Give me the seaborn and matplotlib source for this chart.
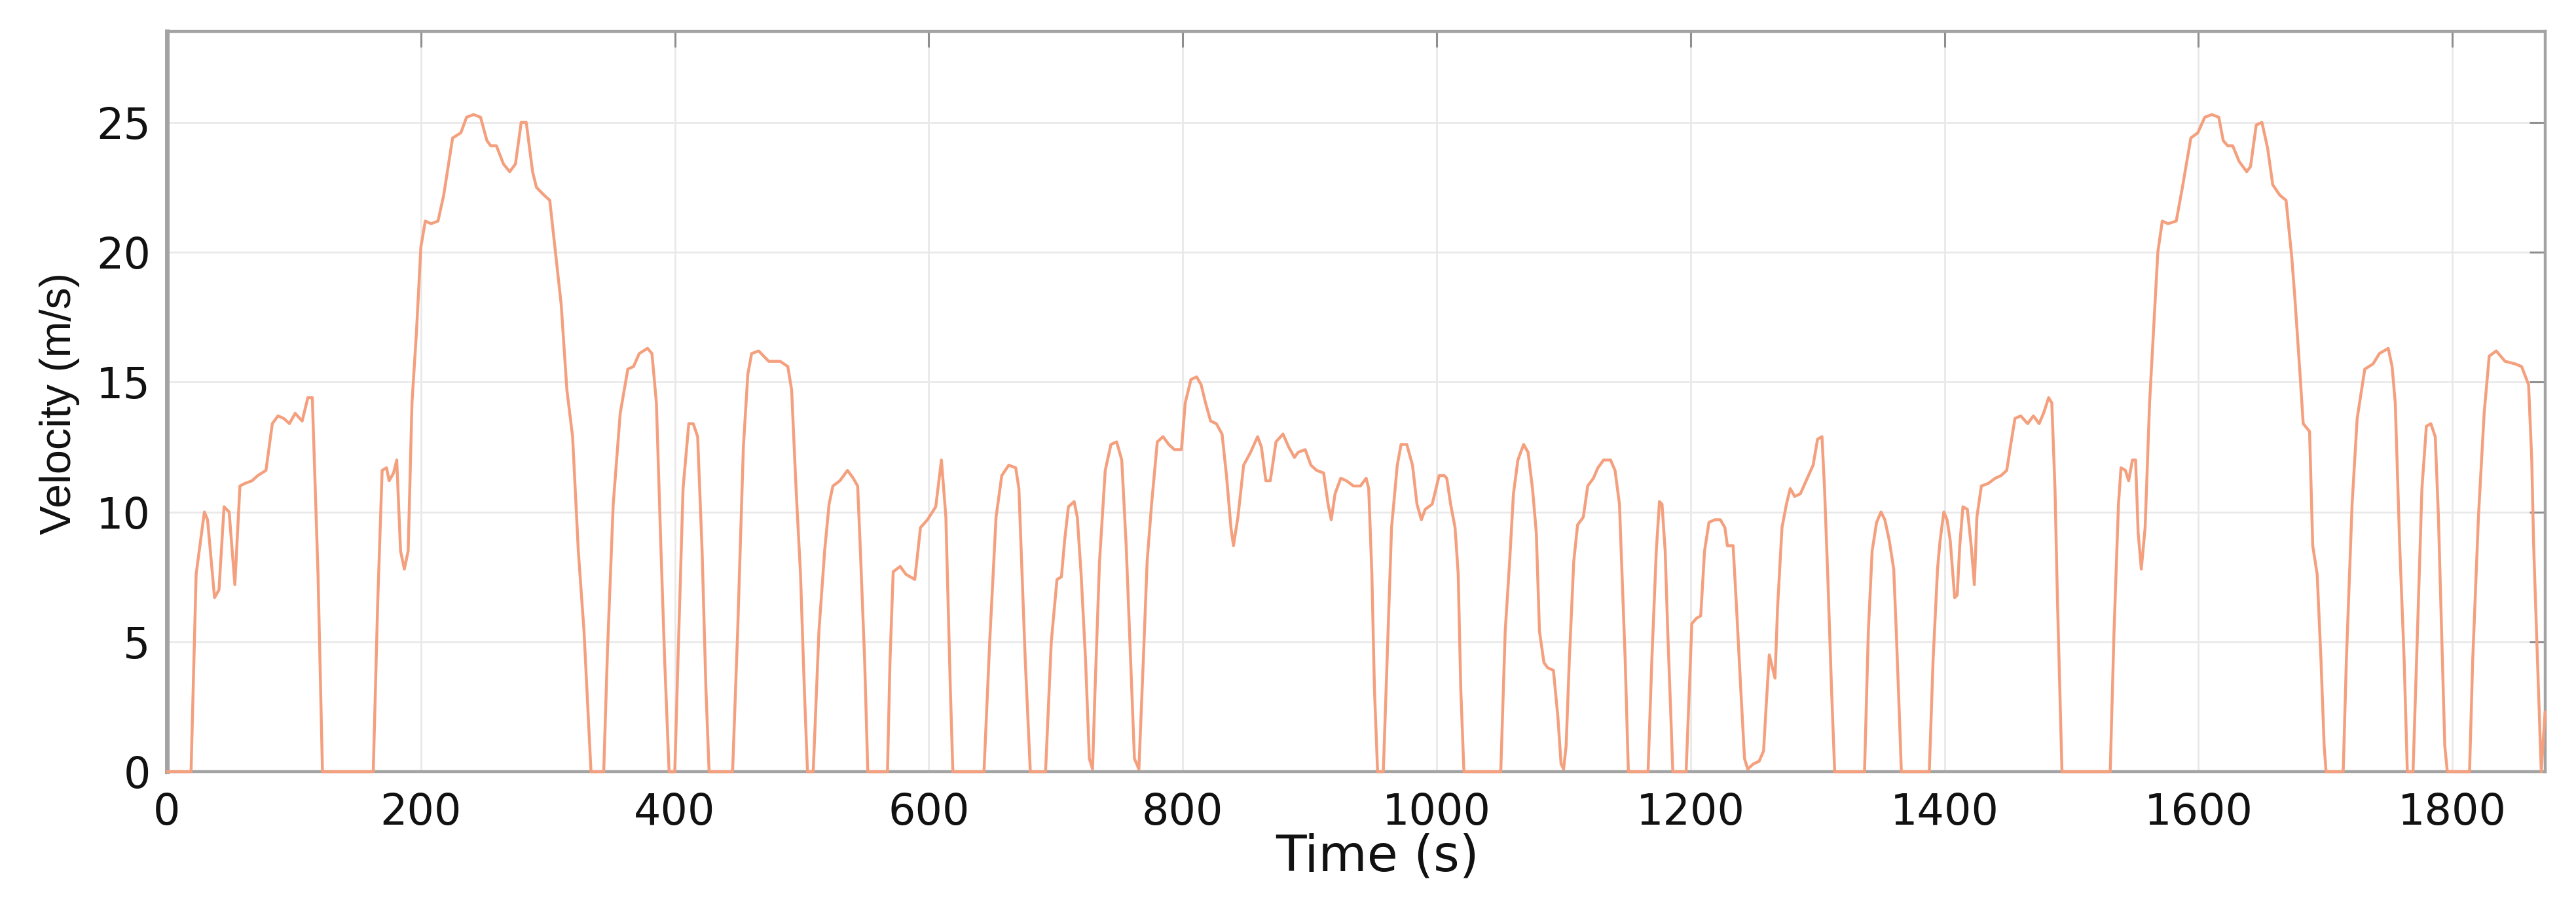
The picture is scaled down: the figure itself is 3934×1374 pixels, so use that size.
import numpy as np
import pandas as pd
import matplotlib
matplotlib.use("Agg")
import matplotlib.pyplot as plt
import seaborn as sns

# velocity profile, split into stretches of the trip
t_sec1 = [0, 19, 23, 26.5, 29.5, 32, 37.5, 41, 45, 49, 53.5, 57.5, 61.5, 67, 71.5, 78, 83, 87.5, 92, 96.5,
          101, 106.5, 111, 114.5, 119, 122.5, 162.5, 166, 169.5, 173, 175, 178.5, 181, 184, 187, 190, 193, 196.5, 200, 203.5,
          208, 213.5, 218, 225, 231.5, 236, 241.5, 247, 252, 255, 259.5, 265, 270, 274.5, 279, 283, 288, 291, 297, 301.5,
          306, 310.5, 315, 319.5, 324, 328.5, 334]
v_sec1 = [0, 0, 7.6, 8.9, 10.0, 9.7, 6.7, 7.0, 10.2, 10.0, 7.2, 11.0, 11.1, 11.2, 11.4, 11.6, 13.4, 13.7, 13.6, 13.4,
          13.8, 13.5, 14.4, 14.4, 7.6, 0, 0, 6.5, 11.6, 11.7, 11.2, 11.5, 12.0, 8.5, 7.8, 8.5, 14.2, 16.9, 20.2, 21.2,
          21.1, 21.2, 22.2, 24.4, 24.6, 25.2, 25.3, 25.2, 24.3, 24.1, 24.1, 23.4, 23.1, 23.4, 25.0, 25.0, 23.1, 22.5, 22.2, 22.0,
          20.0, 18.0, 14.7, 12.9, 8.5, 5.4, 0]

t_sec2 = [344, 347, 351.5, 357, 363, 367.5, 372, 378.5, 382, 385.5, 389, 392, 395.5, 400, 402.5, 406.5, 411, 414.5, 418, 421.5,
          424.5, 427, 445.5, 449.5, 454, 457.5, 460.5, 466, 474, 483, 489, 492, 495.5, 499, 502, 504.5, 509, 513.5, 518, 521.5,
          524.5, 530, 536, 540.5, 544, 546, 549.5, 552, 567.5, 569.5, 572, 577.5, 582, 589, 593.5, 599, 605.5, 610, 613.5, 617,
          619, 643.5, 648, 653, 657.5, 663, 668.5, 671, 673.5, 676, 680]
v_sec2 = [0, 4.7, 10.3, 13.8, 15.5, 15.6, 16.1, 16.3, 16.1, 14.2, 8.7, 4.3, 0, 0, 4.3, 10.9, 13.4, 13.4, 12.9, 8.5,
          3.2, 0, 0, 5.4, 12.5, 15.3, 16.1, 16.2, 15.8, 15.8, 15.6, 14.7, 10.9, 7.6, 3.2, 0, 0, 5.4, 8.5, 10.3,
          11.0, 11.2, 11.6, 11.3, 11.0, 8.7, 4.3, 0, 0, 4.3, 7.7, 7.9, 7.6, 7.4, 9.4, 9.7, 10.2, 12.0, 9.8, 3.2,
          0, 0, 5.0, 9.8, 11.4, 11.8, 11.7, 10.9, 7.6, 4.3, 0]

t_sec3 = [692, 696.5, 701, 704.5, 707, 710, 714.5, 717, 720, 723.5, 726.5, 729, 731, 734.5, 739, 743.5, 748, 752, 755.5, 759,
          762, 765.5, 769, 772, 775.5, 780, 784.5, 789, 793.5, 799, 802, 806.5, 811, 814.5, 818, 822, 826.5, 831, 834.5, 838,
          840, 843.5, 848, 853.5, 859, 862, 865.5, 869, 873.5, 879, 883.5, 888, 891, 896.5, 901, 905.5, 911, 914.5, 917, 920,
          924.5, 929, 934.5, 940, 944.5, 946.5, 949, 951, 953.5, 958, 961, 964.5, 969, 972, 976.5, 981, 984.5, 988, 991, 996.5,
          1002, 1006, 1008, 1011, 1014.5, 1017, 1019, 1021.5]
v_sec3 = [0, 5.0, 7.4, 7.5, 8.9, 10.2, 10.4, 9.8, 7.6, 4.3, 0.5, 0.1, 3.2, 8.1, 11.6, 12.6, 12.7, 12.0, 8.7, 4.3,
          0.5, 0.1, 4.3, 8.1, 10.3, 12.7, 12.9, 12.6, 12.4, 12.4, 14.2, 15.1, 15.2, 14.9, 14.2, 13.5, 13.4, 13.0, 11.4, 9.4,
          8.7, 9.8, 11.8, 12.3, 12.9, 12.5, 11.2, 11.2, 12.7, 13.0, 12.5, 12.1, 12.3, 12.4, 11.8, 11.6, 11.5, 10.3, 9.7, 10.7,
          11.3, 11.2, 11.0, 11.0, 11.3, 10.9, 7.6, 3.2, 0, 0, 4.3, 9.4, 11.8, 12.6, 12.6, 11.8, 10.3, 9.7, 10.1, 10.3,
          11.4, 11.4, 11.3, 10.3, 9.4, 7.6, 3.2, 0]

t_sec4 = [1050.5, 1054, 1057.5, 1060.5, 1064, 1068.5, 1072, 1075.5, 1078.5, 1081, 1084.5, 1087.5, 1092, 1095.5, 1098, 1100,
          1102, 1104.5, 1108, 1111, 1115.5, 1119, 1123.5, 1127, 1131.5, 1137, 1140.5, 1144, 1146, 1148.5, 1151, 1166.5,
          1169.5, 1173, 1175.5, 1177.5, 1180, 1182, 1184.5, 1186, 1196.5, 1199, 1201, 1204.5, 1208, 1211, 1214.5, 1219,
          1223.5, 1227, 1229, 1233.5, 1236, 1239.5, 1242.5, 1245, 1249.5, 1254, 1257.5, 1259.5, 1262, 1264, 1266.5, 1268.5,
          1272, 1275.5, 1278.5, 1282, 1286.5, 1291, 1296.5, 1300, 1303.5, 1305.5, 1308, 1311, 1313.5]
v_sec4 = [0, 5.4, 8.1, 10.7, 12.0, 12.6, 12.3, 10.9, 9.2, 5.4, 4.2, 4.0, 3.9, 2.1, 0.3, 0.1,
          1.0, 4.3, 8.1, 9.5, 9.8, 11.0, 11.3, 11.7, 12.0, 12.0, 11.6, 10.3, 7.6, 4.3, 0, 0,
          4.3, 8.5, 10.4, 10.3, 8.5, 5.4, 2.1, 0, 0, 3.2, 5.7, 5.9, 6.0, 8.5, 9.6, 9.7,
          9.7, 9.4, 8.7, 8.7, 6.5, 3.2, 0.5, 0.1, 0.3, 0.4, 0.8, 2.5, 4.5, 4.1, 3.6, 6.3,
          9.4, 10.3, 10.9, 10.6, 10.7, 11.2, 11.8, 12.8, 12.9, 10.9, 7.6, 3.2, 0]

t_sec5 = [1337, 1340, 1343, 1346.5, 1350, 1353, 1356.5, 1360, 1362, 1364.5, 1366, 1388, 1391, 1394.5, 1396.5, 1399.5,
          1402, 1404.5, 1408, 1410, 1412, 1414.5, 1418, 1421, 1423.5, 1425.5, 1429, 1434.5, 1440, 1444.5, 1449, 1452.5,
          1455.5, 1460, 1465.5, 1470, 1474.5, 1478, 1482, 1484.5, 1487, 1489, 1492.5, 1530.5, 1533.5, 1537, 1539, 1542.5,
          1545, 1548, 1550.5, 1552.5, 1555, 1558, 1561.5, 1565, 1568, 1571.5, 1576, 1582.5, 1587, 1594, 1599.5, 1605,
          1610.5, 1616, 1619.5, 1623, 1627, 1632, 1638, 1641, 1645.5, 1650, 1654.5, 1658.5, 1664, 1669, 1673.5, 1676,
          1680, 1682.5, 1687.5, 1690, 1693.5, 1696.5, 1699, 1700.5]
v_sec5 = [0, 5.4, 8.5, 9.6, 10.0, 9.7, 8.9, 7.8, 5.4, 2.1, 0, 0, 4.3, 7.8, 8.9, 10.0,
          9.7, 8.9, 6.7, 6.8, 8.7, 10.2, 10.1, 8.7, 7.2, 9.8, 11.0, 11.1, 11.3, 11.4, 11.6, 12.7,
          13.6, 13.7, 13.4, 13.7, 13.4, 13.8, 14.4, 14.2, 10.9, 6.5, 0, 0, 5.4, 10.3, 11.7, 11.6,
          11.2, 12.0, 12.0, 9.2, 7.8, 9.4, 14.2, 17.3, 20.0, 21.2, 21.1, 21.2, 22.4, 24.4, 24.6, 25.2,
          25.3, 25.2, 24.3, 24.1, 24.1, 23.5, 23.1, 23.3, 24.9, 25.0, 24.0, 22.6, 22.2, 22.0, 19.8, 18.2,
          15.3, 13.4, 13.1, 8.7, 7.6, 4.3, 1.0, 0]

t_sec6 = [1714, 1716.5, 1721, 1725, 1731, 1737.5, 1742.5, 1749.5, 1752.5, 1755, 1758.5, 1762, 1764.5, 1769, 1772.5, 1776,
          1779.5, 1783, 1786.5, 1789, 1791.5, 1794, 1796, 1813.5, 1816, 1820.5, 1825, 1829, 1834.5, 1841.5, 1849.5, 1854.5,
          1860, 1862.5, 1864, 1867, 1870, 1873]
v_sec6 = [0, 4.3, 10.3, 13.6, 15.5, 15.7, 16.1, 16.3, 15.6, 14.2, 8.7, 4.3, 0, 0, 5.4, 10.9,
          13.3, 13.4, 12.9, 9.8, 5.4, 1.0, 0, 0, 4.3, 9.8, 13.8, 16.0, 16.2, 15.8, 15.7, 15.6,
          14.9, 12.0, 8.7, 4.3, 0, 2.3]

x_ticks = [0, 200, 400, 600, 800, 1000, 1200, 1400, 1600, 1800]
y_ticks = [0, 5, 10, 15, 20, 25]

time_all = t_sec1 + t_sec2 + t_sec3 + t_sec4 + t_sec5 + t_sec6
vel_all = v_sec1 + v_sec2 + v_sec3 + v_sec4 + v_sec5 + v_sec6
df = pd.DataFrame({"Time": time_all, "Velocity": vel_all})

sns.set_style("white")
plt.rcParams["font.family"] = ["DejaVu Sans"]

fig = plt.figure(figsize=(39.34, 13.74), dpi=100)
ax = fig.add_axes([0.0648, 0.1426, 0.9232, 0.8224])

sns.lineplot(data=df, x="Time", y="Velocity", ax=ax, color="#F4A07E", linewidth=3.2,
             estimator=None, sort=False)
line = ax.lines[-1]
line.set_clip_on(False)
line.set_zorder(3)

ax.set_xlim(0, 1873)
ax.set_ylim(0, 28.5)
ax.set_xticks(x_ticks)
ax.set_yticks(y_ticks)
ax.grid(True, color="#e9e9e9", linewidth=2.0)
ax.set_axisbelow(True)

for side, sp in ax.spines.items():
    sp.set_visible(True)
    sp.set_color("#a3a3a3")
    sp.set_linewidth(3.2)
ax.spines["left"].set_linewidth(5)

ax.tick_params(axis="both", direction="in", top=True, right=True, length=17, width=2.2,
               color="#8f8f8f", labelcolor="#111111", labelsize=47)
ax.tick_params(axis="x", pad=22)
ax.tick_params(axis="y", pad=18)

ax.set_xlabel("Time (s)", fontsize=55, color="#111111")
ax.set_ylabel("Velocity (m/s)", fontsize=48, color="#111111", family=["Liberation Sans", "DejaVu Sans"])
ax.xaxis.set_label_coords(0.509, -0.083)
ax.yaxis.set_label_coords(-0.0366, 0.497)

fig.savefig("out.png", dpi=100, facecolor="white")
